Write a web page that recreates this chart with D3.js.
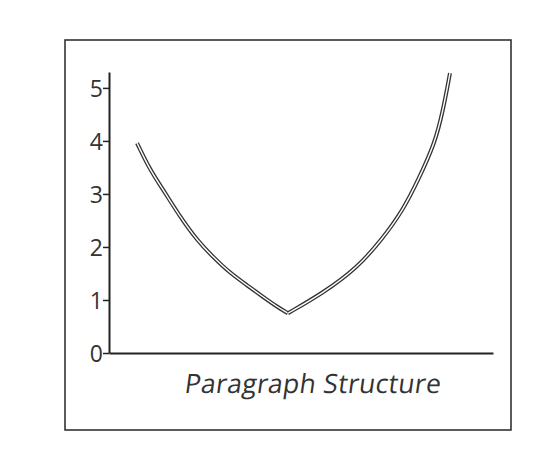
<!DOCTYPE html>
<html>
<head>
<meta charset="utf-8">
<script src="https://cdn.jsdelivr.net/npm/d3@7"></script>
<style>
  body { margin: 0; background: #fff; }
  svg text { font-family: "Open Sans", "DejaVu Sans", sans-serif; fill: #333; }
</style>
</head>
<body>
<div id="chart"></div>
<script>
// values
var xValues = [0.73, 1.07, 1.41, 1.85, 2.29, 2.71, 3.15, 3.59, 4.01, 4.38, 4.66, 5.57, 6.46, 7.14, 7.66, 8.05, 8.49, 8.70, 8.88];
var yValues = [3.96, 3.45, 3.08, 2.57, 2.13, 1.81, 1.51, 1.28, 1.06, 0.87, 0.75, 1.13, 1.60, 2.17, 2.70, 3.26, 3.96, 4.58, 5.28];
var yTicks = [0, 1, 2, 3, 4, 5];
var xTitle = "Paragraph Structure";

var W = 560, H = 468;
var margin = {top: 72, right: 67, bottom: 115, left: 109},
  width = W - margin.left - margin.right,
  height = H - margin.top - margin.bottom;

var svg = d3.select("#chart").append("svg")
  .attr("width", W)
  .attr("height", H);

// outer frame
svg.append("rect")
  .attr("x", 65).attr("y", 40)
  .attr("width", 446).attr("height", 390)
  .attr("fill", "none")
  .attr("stroke", "#333")
  .attr("stroke-width", 1.6);

var g = svg.append("g")
  .attr("transform", "translate(" + margin.left + "," + margin.top + ")");

var x = d3.scaleLinear().domain([0, 10]).range([0, width]);
var y = d3.scaleLinear().domain([0, 5.3]).range([height, 0]);

// y axis
var yAxis = g.append("g")
  .call(d3.axisLeft(y).tickValues(yTicks).tickFormat(d3.format("d")).tickSize(6).tickSizeOuter(0));
yAxis.select(".domain").attr("stroke", "#222").attr("stroke-width", 2);
yAxis.selectAll(".tick line").attr("stroke", "#222").attr("stroke-width", 1.5);
yAxis.selectAll(".tick text")
  .attr("x", -6)
  .attr("dy", "0.36em")
  .style("font-size", "23px")
  .style("fill", "#333");

// x axis (bare line)
var xAxis = g.append("g")
  .attr("transform", "translate(0," + height + ")")
  .call(d3.axisBottom(x).tickValues([]).tickSizeOuter(0));
xAxis.select(".domain").attr("stroke", "#222").attr("stroke-width", 2);

// curve as a double line, two branches meeting at the minimum
var pts = xValues.map(function (v, i) { return [v, yValues[i]]; });
var minIdx = yValues.indexOf(d3.min(yValues));
var line = d3.line()
  .x(function (d) { return x(d[0]); })
  .y(function (d) { return y(d[1]); })
  .curve(d3.curveBasis);

[pts.slice(0, minIdx + 1), pts.slice(minIdx)].forEach(function (seg) {
  g.append("path").datum(seg)
    .attr("d", line)
    .attr("fill", "none")
    .attr("stroke", "#333")
    .attr("stroke-width", 4);
  g.append("path").datum(seg)
    .attr("d", line)
    .attr("fill", "none")
    .attr("stroke", "#fff")
    .attr("stroke-width", 1.4);
});

// axis title, slightly slanted
svg.append("text")
  .attr("text-anchor", "middle")
  .attr("transform", "translate(312,393) skewX(-8)")
  .style("font-size", "26.5px")
  .style("letter-spacing", "0.3px")
  .text(xTitle);
</script>
</body>
</html>
